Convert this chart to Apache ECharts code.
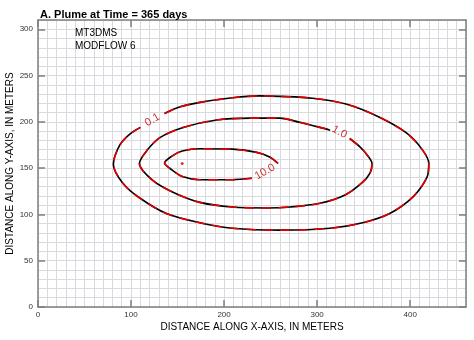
<!DOCTYPE html>
<html>
<head>
<meta charset="utf-8">
<script src="https://cdn.jsdelivr.net/npm/echarts@6/dist/echarts.min.js"></script>
<style>
    html, body { margin: 0; padding: 0; background: #fff; }
    #main { width: 474px; height: 340px; }
</style>
</head>
<body>
<div id="main"></div>
<script>
    //坐标轴刻度
    var xTicks = [0, 100, 200, 300, 400];
    var yTicks = [0, 50, 100, 150, 200, 250, 300];

    //等值线 0.1 / 1.0 / 10.0 (起点在标注之后，终点在标注之前)
    var c01 = [
        [136, 209], [152, 216], [174, 221], [209, 226], [238, 228], [260, 227.5],
        [295, 225.5], [332, 219], [367, 205], [396, 188], [413, 170], [420, 155],
        [418, 140], [403, 119], [378, 101], [349, 91], [314, 85], [260, 83],
        [209, 85], [174, 91], [138, 101], [109, 118], [91, 134], [81, 154],
        [88, 175], [99, 187], [110, 194]
    ];
    var c1 = [
        [335, 182], [346, 173], [354, 164], [359, 155], [357, 145], [348, 134],
        [330, 121], [303, 112], [271, 108], [246, 107], [209, 108], [174, 113],
        [145, 124], [123, 137], [109, 155], [117, 169], [131, 183], [156, 194],
        [192, 202], [228, 204], [260, 204], [281, 199.5], [303, 194], [314, 191]
    ];
    var c10 = [
        [258, 155], [249, 162], [235, 167], [209, 170.5], [174, 171], [155, 168.5],
        [144, 163], [136, 155.5], [144, 148], [155, 141], [174, 137.5], [209, 137.5],
        [230, 139]
    ];
    //等值线标注 [x, y, 文字, 旋转角度]
    var contourLabels = [
        [123, 202, '0.1', 30],
        [324, 189, '1.0', -28],
        [244, 146, '10.0', 30]
    ];
    //污染源
    var source = [[155, 155]];

    var font = '"Liberation Sans", Arial, sans-serif';
    var axisGrey = '#7f7f7f';
    var gridColor = '#d8dae0';

    var myChart = echarts.init(document.getElementById('main'));

    function contourSeries(name, data) {
        return [
            {
                name: 'MT3DMS ' + name,
                type: 'line',
                data: data,
                smooth: 0.3,
                symbol: 'none',
                lineStyle: { color: '#000', width: 1.6 },
                z: 3
            },
            {
                name: 'MODFLOW 6 ' + name,
                type: 'line',
                data: data,
                smooth: 0.3,
                symbol: 'none',
                lineStyle: { color: '#e00000', width: 1.6, type: [10, 7] },
                z: 4
            }
        ];
    }

    var series = [].concat(
        contourSeries('0.1', c01),
        contourSeries('1.0', c1),
        contourSeries('10.0', c10)
    );
    //等值线标注
    series.push({
        type: 'scatter',
        data: contourLabels.map(function (d) {
            return { value: d, label: { rotate: d[3] } };
        }),
        symbolSize: 0,
        z: 5,
        label: {
            show: true,
            position: 'inside',
            color: '#c00000',
            fontFamily: font,
            fontSize: 11,
            formatter: function (p) { return p.value[2]; }
        }
    });
    series.push({
        type: 'scatter',
        data: source,
        symbol: 'circle',
        symbolSize: 3,
        itemStyle: { color: '#e00000' },
        z: 6
    });

    //只画网格线的坐标轴
    function gridAxis(pos, max) {
        return {
            type: 'value',
            position: pos,
            min: 0, max: max, interval: 10,
            axisLine: { show: false },
            axisTick: { show: false },
            axisLabel: { show: false },
            splitLine: { show: true, lineStyle: { color: gridColor, width: 1 } }
        };
    }
    //只画边框和刻度的坐标轴
    function frameAxis(pos, max, ticks) {
        return {
            type: 'value',
            position: pos,
            min: 0, max: max, interval: 10,
            axisLine: { show: true, onZero: false, lineStyle: { color: axisGrey, width: 1.5 } },
            axisTick: { show: true, inside: true, length: 7, customValues: ticks, lineStyle: { color: axisGrey, width: 1.5 } },
            axisLabel: { show: false },
            splitLine: { show: false }
        };
    }

    var xMain = frameAxis('bottom', 460, xTicks);
    xMain.name = 'DISTANCE ALONG X-AXIS, IN METERS';
    xMain.nameLocation = 'middle';
    xMain.nameGap = 15;
    xMain.nameMoveOverlap = false;
    xMain.nameTextStyle = { fontFamily: font, fontSize: 10, color: '#000', verticalAlign: 'top' };
    xMain.axisLabel = { show: true, customValues: xTicks, fontFamily: font, fontSize: 8, color: '#333', margin: 4 };

    var yMain = frameAxis('left', 310, yTicks);
    yMain.name = 'DISTANCE ALONG Y-AXIS, IN METERS';
    yMain.nameLocation = 'middle';
    yMain.nameGap = 23;
    yMain.nameMoveOverlap = false;
    yMain.nameTextStyle = { fontFamily: font, fontSize: 10, color: '#000' };
    yMain.axisLabel = { show: true, customValues: yTicks, fontFamily: font, fontSize: 8, color: '#333', margin: 5 };

    var option = {
        animation: false,
        backgroundColor: '#fff',
        title: {
            text: 'A. Plume at Time = 365 days',
            left: 35,
            top: 4,
            textStyle: { fontFamily: font, fontSize: 11, fontWeight: 'bold', color: '#000' }
        },
        grid: { left: 38, right: 8, top: 20, bottom: 33, outerBoundsMode: 'none', containLabel: false },
        xAxis: [xMain, frameAxis('top', 460, xTicks), gridAxis('bottom', 460)],
        yAxis: [yMain, frameAxis('right', 310, yTicks), gridAxis('left', 310)],
        graphic: [
            { type: 'text', left: 75, top: 28, z: 100, style: { text: 'MT3DMS', font: '10px ' + font, fill: '#000' } },
            { type: 'text', left: 75, top: 41, z: 100, style: { text: 'MODFLOW 6', font: '10px ' + font, fill: '#000' } }
        ],
        series: series
    };

    myChart.setOption(option);
</script>
</body>
</html>
